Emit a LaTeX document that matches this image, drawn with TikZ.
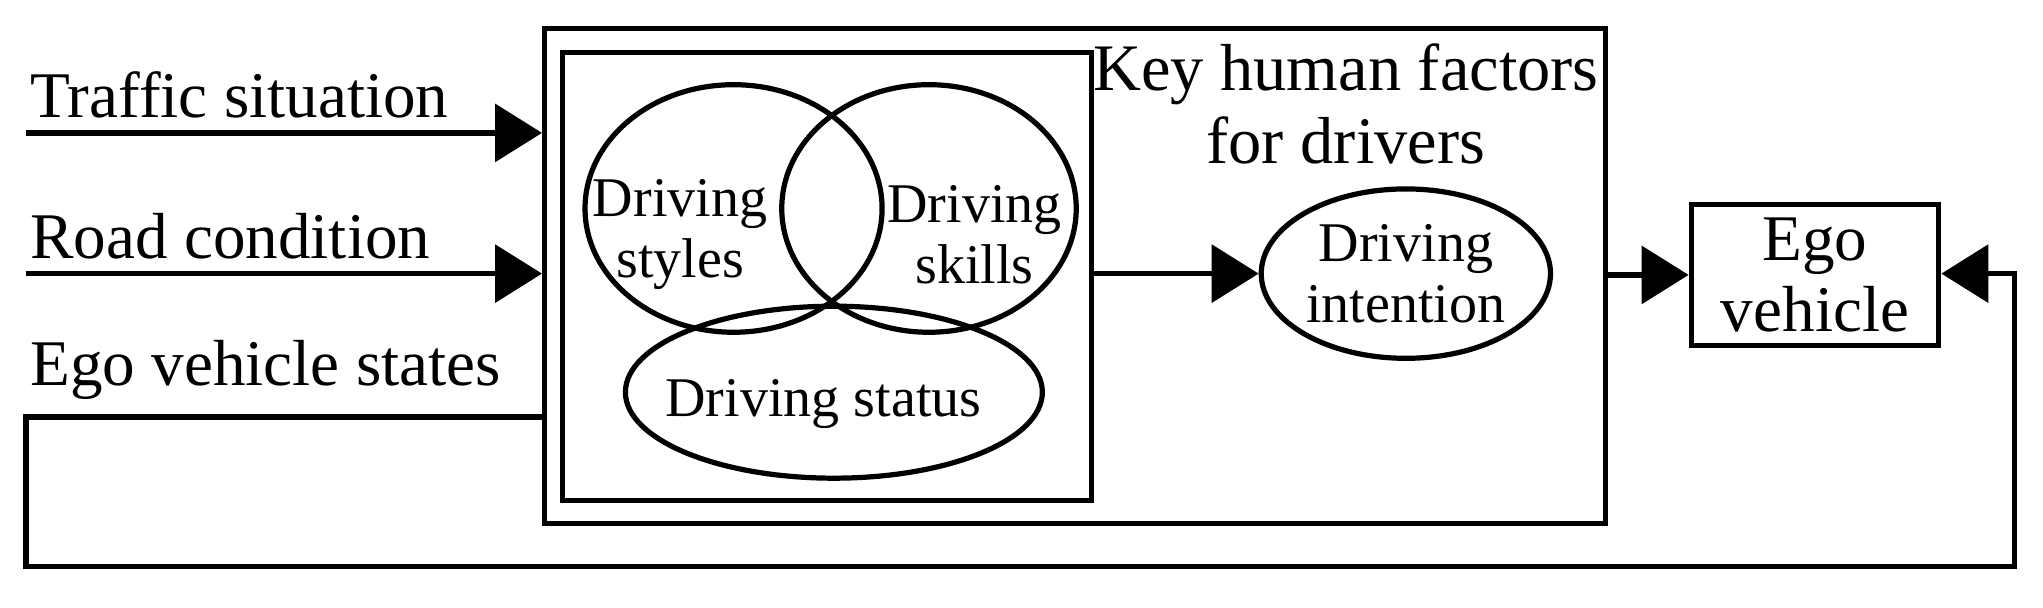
\documentclass[tikz,border=0pt]{standalone}
\usepackage{fontspec}
\setmainfont{Liberation Serif}
\usetikzlibrary{arrows.meta,shapes.geometric}
\begin{document}
\begin{tikzpicture}[x=1pt,y=-1pt,line width=4pt,
  arr/.style={-{Triangle[length=36pt,width=44pt]}},
  big/.style={font=\fontsize{50}{52}\selectfont},
  mid/.style={font=\fontsize{43}{47}\selectfont, align=center},
  ell/.style={draw, ellipse, inner sep=0pt}]
\useasboundingbox (0,0) rectangle (1568,466);
\node[draw, minimum width=814pt, minimum height=380pt, inner sep=0pt, anchor=north west] (outer) at (416,20) {};
\node[draw, minimum width=406pt, minimum height=344pt, inner sep=0pt, anchor=north west] (inner) at (430,38) {};
\node[ell, minimum width=228pt, minimum height=190pt] (styles) at (563,160) {};
\node[ell, minimum width=226pt, minimum height=190pt] (skills) at (713,160) {};
\node[ell, minimum width=320pt, minimum height=132pt] (status) at (640,301) {};
\node[mid] (tstyles) at (522,180) {Driving\\styles};
\node[mid] (tskills) at (748,180) {Driving\\skills};
\node[mid] (tstatus) at (632,310) {Driving status};
\node[font=\fontsize{51}{56}\selectfont, align=center] (key) at (1033,80) {Key human factors\\for drivers};
\node[ell, minimum width=222pt, minimum height=130pt, mid] (intent) at (1079,210) {Driving\\intention};
\node[draw, minimum width=190pt, minimum height=108pt, inner sep=0pt, font=\fontsize{50}{54}\selectfont, align=center] (ego) at (1393,211) {Ego\\vehicle};
\coordinate (t0) at (20,102);
\coordinate (r0) at (20,210);
\coordinate (e0) at (416,320);
\coordinate (e1) at (20,320);
\coordinate (e2) at (20,435);
\coordinate (e3) at (1546,435);
\coordinate (e4) at (1546,210);
\node[big, anchor=south west] (ttraffic) at (18,96) {Traffic situation};
\node[big, anchor=south west] (troad) at (18,204) {Road condition};
\node[big, anchor=south west] (tego) at (18,312) {Ego vehicle states};
\draw[arr] (t0) -- (t0 -| outer.west);
\draw[arr] (r0) -- (r0 -| outer.west);
\draw[arr] (inner.east |- intent) -- (intent.west);
\draw[arr] (outer.east |- ego) -- (ego.west);
\draw[arr] (e0) -- (e1) -- (e2) -- (e3) -- (e4) -- (ego.east |- e4);
\end{tikzpicture}
\end{document}
